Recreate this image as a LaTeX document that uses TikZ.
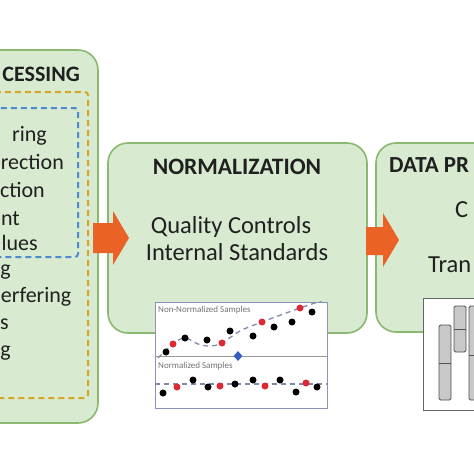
\documentclass[tikz,border=0pt]{standalone}
\usepackage{fontspec}
\setmainfont{Carlito}
\usetikzlibrary{shapes.geometric}
\definecolor{boxfill}{RGB}{216,234,208}
\definecolor{boxline}{RGB}{138,184,112}
\definecolor{arr}{RGB}{234,98,38}
\definecolor{odash}{RGB}{214,166,40}
\definecolor{bdash}{RGB}{78,138,206}
\definecolor{txt}{RGB}{32,32,32}
\definecolor{chartline}{RGB}{140,146,188}
\definecolor{dashc}{RGB}{128,138,172}
\definecolor{reddot}{RGB}{222,40,52}
\definecolor{diamc}{RGB}{52,92,196}
\definecolor{bpfill}{RGB}{200,200,200}
\definecolor{bpline}{RGB}{80,80,80}
\tikzset{
  stage/.style={draw=boxline, fill=boxfill, line width=1.6pt, rounded corners=20pt, inner sep=0pt},
  body/.style={font=\fontsize{24.5}{28}\selectfont, text=txt, inner sep=0pt},
  lbody/.style={font=\fontsize{22}{28}\selectfont, text=txt, inner sep=0pt, anchor=base east},
  head/.style={font=\fontsize{23.5}{28}\selectfont\bfseries, text=txt, inner sep=0pt},
  blk/.style={fill=black, draw=none},
  rdot/.style={fill=reddot, draw=none},
  tiny/.style={font=\fontsize{9}{10}\selectfont, text=black!55, inner sep=0pt},
  bpbox/.style={draw=bpline, fill=bpfill, line width=0.9pt, rounded corners=1.5pt}
}
\begin{document}
\begin{tikzpicture}[x=1pt,y=-1pt]
\useasboundingbox (0,0) rectangle (474,474);
\fill[white] (0,0) rectangle (474,474);
\begin{scope}
\clip (0,0) rectangle (474,474);
% stages
\node[stage, minimum width=140pt, minimum height=373pt] (pre) at (28,236.5) {};
\node[stage, minimum width=259pt, minimum height=190pt] (norm) at (237.5,238) {};
\node[stage, minimum width=170pt, minimum height=189pt] (proc) at (461,237.5) {};
% dashed frames
\draw[odash, line width=2pt, dash pattern=on 6pt off 4pt, rounded corners=3pt] (-20,92) rectangle (88,398);
\draw[bdash, line width=2pt, dash pattern=on 6pt off 4pt, rounded corners=3pt] (-20,108) rectangle (78,257);
% left texts
\node[head, font=\fontsize{22}{28}\selectfont\bfseries, anchor=east] (h1) at (80,74) {CESSING};
\node[lbody] (l1) at (47,141) {ring};
\node[lbody] (l2) at (64,169) {rection};
\node[lbody] (l3) at (45,197) {ction};
\node[lbody] (l4) at (20,225) {nt};
\node[lbody] (l5) at (38,250) {lues};
\node[lbody] (l6) at (11,275) {g};
\node[lbody] (l7) at (71.5,302) {erfering};
\node[lbody] (l8) at (9,329) {s};
\node[lbody] (l9) at (11,356) {g};
% middle texts
\node[head] (h2) at (237,167) {NORMALIZATION};
\node[body] (m1) at (231,227) {Quality Controls};
\node[body] (m2) at (237,252) {Internal Standards};
% right texts
\node[head, font=\fontsize{23}{28}\selectfont\bfseries, anchor=west] (h3) at (389,165) {DATA PR};
\node[body, anchor=west] (r1) at (455,210) {C};
\node[body, anchor=west] (r2) at (428,265) {Tran};
% arrows
\fill[arr] (93,223) -- (113,223) -- (113,211) -- (129,238) -- (113,265) -- (113,253) -- (93,253) -- cycle;
\fill[arr] (366,227) -- (383,227) -- (383,213) -- (399,240) -- (383,267) -- (383,255) -- (366,255) -- cycle;
% chart
\node[draw=chartline, fill=white, line width=1pt, minimum width=172pt, minimum height=106pt, inner sep=0pt] (chart) at (241,355) {};
\draw[black!40, line width=0.8pt] (chart.west |- 0,356) -- (chart.east |- 0,356);
\node[tiny, anchor=west] (t1) at (158,310) {Non-Normalized Samples};
\node[tiny, anchor=west] (t2) at (158,366) {Normalized Samples};
\begin{scope}
\clip (chart.south west) rectangle (chart.north east);
\draw[dashc, line width=1.3pt, dash pattern=on 5pt off 4pt] plot[smooth, tension=0.6] coordinates {(158,358) (173,344) (185,338) (198,344) (210,346) (222,343) (240,331) (262,322) (300,308) (330,298)};
\draw[dashc, line width=1.3pt, dash pattern=on 5pt off 4pt] (155,384) -- (327,384);
\end{scope}
\foreach \p in {(166,352),(185,338),(207,340),(230,331),(253,336),(274,327),(292,322),(312,312)} \fill[blk] \p circle (3.5pt);
\foreach \p in {(173,344),(222,343),(262,322),(300,308)} \fill[rdot] \p circle (3.5pt);
\foreach \p in {(163,393),(193,380),(208,387),(235,384),(253,380),(280,380),(296,392),(317,387)} \fill[blk] \p circle (3.5pt);
\foreach \p in {(177,387),(220,386),(265,386),(306,383)} \fill[rdot] \p circle (3.5pt);
\node[diamond, fill=diamc, inner sep=0pt, minimum width=9pt, minimum height=10pt] (dm) at (238,356) {};
% boxplot
\node[draw=black!60, fill=white, line width=1pt, minimum width=80pt, minimum height=112pt, inner sep=0pt, anchor=north west] (bp) at (423,298) {};
\draw[bpbox] (439,325) rectangle (451,400);
\draw[bpline, line width=0.9pt] (439,363) -- (451,363);
\draw[bpbox] (454,306) rectangle (466,352);
\draw[bpline, line width=0.9pt] (454,329) -- (466,329);
\draw[bpbox] (469,306) rectangle (481,400);
\draw[bpline, line width=0.9pt] (469,355) -- (481,355);
\end{scope}
\end{tikzpicture}
\end{document}
